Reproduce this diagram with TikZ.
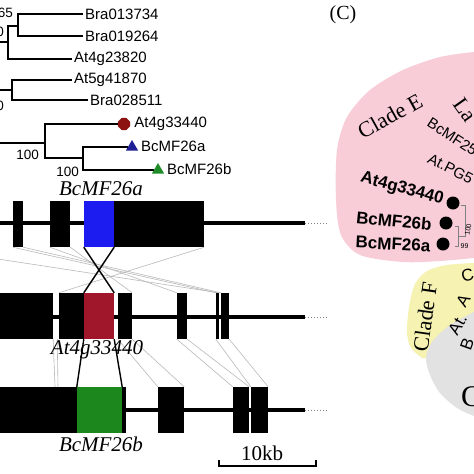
\documentclass[tikz,border=0pt]{standalone}
\usepackage{fontspec}
\setmainfont{Liberation Serif}
\newfontfamily\arial{Liberation Sans}
\usetikzlibrary{shapes.geometric,calc}
\definecolor{exonblue}{RGB}{28,28,240}
\definecolor{exonred}{RGB}{160,22,42}
\definecolor{exongreen}{RGB}{28,135,28}
\definecolor{octred}{RGB}{140,18,18}
\definecolor{triblue}{RGB}{30,30,150}
\definecolor{trigreen}{RGB}{30,140,40}
\definecolor{cladeE}{RGB}{248,205,215}
\definecolor{cladeF}{RGB}{245,242,178}
\definecolor{cladeG}{RGB}{226,226,226}
\tikzset{
    branch/.style={line width=1.6pt},
    leaf/.style={anchor=west, inner sep=2pt, font=\arial\fontsize{15}{17}\selectfont},
    boot/.style={anchor=east, inner sep=1pt, font=\arial\fontsize{13.5}{15}\selectfont},
    octo/.style={regular polygon, regular polygon sides=8, minimum size=13pt, inner sep=0pt, fill=octred},
    tri/.style={regular polygon, regular polygon sides=3, minimum size=14pt, inner sep=0pt},
    intron/.style={line width=3.5pt},
    tail/.style={gray, line width=1pt, dotted},
    exon/.style={rectangle, fill=black, inner sep=0pt, minimum height=46pt},
    homol/.style={gray!55, line width=0.6pt},
    match/.style={line width=1.4pt},
    gname/.style={font=\fontsize{21}{24}\selectfont\itshape, inner sep=1pt},
    scalebar/.style={line width=1.5pt},
    clade/.style={font=\fontsize{22}{24}\selectfont, inner sep=1pt},
    memb/.style={font=\arial\fontsize{15}{17}\selectfont, inner sep=1pt},
    fmemb/.style={font=\arial\fontsize{17}{19}\selectfont, inner sep=0.5pt, anchor=west},
    bmemb/.style={font=\arial\bfseries\fontsize{17}{19}\selectfont, inner sep=1pt},
    dot/.style={circle, fill=black, minimum size=13pt, inner sep=0pt},
    brk/.style={gray, line width=0.5pt},
    tiny/.style={font=\arial\fontsize{7}{8}\selectfont, inner sep=0.5pt}
}

\begin{document}
\begin{tikzpicture}[x=1pt,y=-1pt]
    \useasboundingbox (0,0) rectangle (474,474);
    \fill[white] (0,0) rectangle (474,474);
    \clip (0,0) rectangle (474,474);

    % tree
    \node[leaf] (bra1) at (83,14) {Bra013734};
    \node[leaf] (bra2) at (83,36) {Bra019264};
    \node[leaf] (at1) at (72,59) {At4g23820};
    \node[leaf] (at2) at (72,80) {At5g41870};
    \node[leaf] (bra3) at (88,100) {Bra028511};
    \node[octo] (mk1) at (124,124) {};
    \node[tri, fill=triblue] (mk2) at (132,147) {};
    \node[tri, fill=trigreen] (mk3) at (158,170) {};
    \node[leaf] (at3) at ($(mk1.east)+(2,0)$) {At4g33440};
    \node[leaf] (bc1) at (139,146) {BcMF26a};
    \node[leaf] (bc2) at (165,169) {BcMF26b};
    \coordinate (n1) at (18,26);
    \coordinate (n2) at (8,42);
    \coordinate (n3) at (12,90);
    \coordinate (n4) at (45,143);
    \coordinate (n5) at (83,158);
    \coordinate (s2) at (-5,42);
    \coordinate (s3) at (-5,90);
    \coordinate (s4) at (-5,143);

    \draw[branch] (bra1.west) -| (n1) |- (bra2.west);
    \draw[branch] (n1) -| (n2) |- (at1.west);
    \draw[branch] (s2) -- (n2);
    \draw[branch] (at2.west) -| (n3) |- (bra3.west);
    \draw[branch] (s3) -- (n3);
    \draw[branch] (mk1.west) -| (n4) |- (n5);
    \draw[branch] (s4) -- (n4);
    \draw[branch] (mk2.west) -| (n5) |- (mk3.west);

    \node[boot] (b1) at (14,13) {65};
    \node[boot] (b2) at (5,32) {100};
    \node[boot] (b3) at (5,106) {100};
    \node[boot] (b4) at (40,155) {100};
    \node[boot] (b5) at (80,172) {100};

    % gene models
    \coordinate (g1s) at (-5,223);
    \coordinate (g1e) at (305,223);
    \coordinate (g1d) at (327,223);
    \coordinate (g2s) at (-5,317);
    \coordinate (g2e) at (305,317);
    \coordinate (g2d) at (327,317);
    \coordinate (g3s) at (-5,410);
    \coordinate (g3e) at (305,410);
    \coordinate (g3d) at (327,410);
    \draw[intron] (g1s) -- (g1e);
    \draw[tail] (g1e) -- (g1d);
    \draw[intron] (g2s) -- (g2e);
    \draw[tail] (g2e) -- (g2d);
    \draw[intron] (g3s) -- (g3e);
    \draw[tail] (g3e) -- (g3d);

    \node[exon, minimum width=10pt] (a1) at (18,224) {};
    \node[exon, minimum width=20pt] (a2) at (60,224) {};
    \node[exon, minimum width=30pt, fill=exonblue] (aB) at (99,224) {};
    \node[exon, minimum width=90pt] (a4) at (159,224) {};

    \node[exon, minimum width=58pt] (b1) at (24,316) {};
    \node[exon, minimum width=25pt] (b2) at (71.5,316) {};
    \node[exon, minimum width=30pt, fill=exonred] (bR) at (99,316) {};
    \node[exon, minimum width=14pt] (b4) at (125,316) {};
    \node[exon, minimum width=10pt] (b5) at (182,316) {};
    \node[exon, minimum width=3pt] (b6) at (217.5,316) {};
    \node[exon, minimum width=8pt] (b7) at (225,316) {};

    \node[exon, minimum width=82pt] (c1) at (36,410) {};
    \node[exon, minimum width=45pt, fill=exongreen] (cG) at (99.5,410) {};
    \node[exon, minimum width=4pt] (c2) at (124,410) {};
    \node[exon, minimum width=26pt] (c3) at (171,410) {};
    \node[exon, minimum width=16pt] (c4) at (241,410) {};
    \node[exon, minimum width=17pt] (c5) at (259.5,410) {};

    \coordinate (lft) at (-2,259);
    \coordinate (c1a) at (55,387);
    \coordinate (c1b) at (58,387);
    \draw[homol] (a1.south west) -- (b6.north west);
    \draw[homol] (a1.south east) -- (b7.north west);
    \draw[homol] (lft) -- (b6.north east);
    \draw[homol] (a2.south west) -- (b5.north west);
    \draw[homol] (a2.south east) -- (b4.north east);
    \draw[homol] (a4.south east) -- (b2.north west);
    \draw[match] (aB.south west) -- (bR.north east);
    \draw[match] (aB.south east) -- (bR.north west);

    \draw[homol] (b1.south east) -- (c1a);
    \draw[homol] ($(b1.south east)+(4,0)$) -- (c1b);
    \draw[homol] (b4.south west) -- (c3.north west);
    \draw[homol] (b4.south east) -- (c3.north east);
    \draw[homol] (b5.south west) -- (c4.north west);
    \draw[homol] (b5.south east) -- (c4.north east);
    \draw[homol] (b6.south west) -- (c5.north west);
    \draw[homol] (b7.south east) -- (c5.north east);
    \draw[match] (bR.south west) -- (cG.north west);
    \draw[match] (bR.south east) -- (cG.north east);

    \node[gname] (la) at (101,189) {BcMF26a};
    \node[gname] (lb) at (97,350) {At4g33440};
    \node[gname] (lc) at (101,444) {BcMF26b};

    \node[font=\fontsize{21}{24}\selectfont, inner sep=1pt] (kb) at (262,453) {10kb};
    \coordinate (sl) at (219,460);
    \coordinate (sr) at (316,460);
    \draw[scalebar] (sl) -- ++(0,6) -| (sr);

    % panel C
    \node[font=\fontsize{20}{22}\selectfont] (pc) at (343,15) {(C)};
    \fill[cladeE] (480,48) -- plot[smooth] coordinates {(474,52) (440,57) (403,70) (370,90) (347,117) (337,150) (336,200) (341,235) (360,255) (403,262) (440,261) (474,258)} -- (480,258) -- cycle;
    \fill[cladeF] (480,262) -- plot[smooth] coordinates {(474,263) (447,265) (427,271) (415,284) (409,307) (407,333) (411,348) (422,358)} -- (480,358) -- cycle;
    \fill[cladeG] (480,312) -- plot[smooth] coordinates {(474,312) (450,325) (432,342) (426,358) (430,375) (440,393) (457,408) (474,416)} -- (480,416) -- cycle;

    \node[clade, rotate=29] (ce) at (390,116) {Clade E};
    \node[clade, rotate=-55, anchor=west] (cl) at (458,99) {La};
    \node[memb, rotate=-33, anchor=west] (m1) at (428,121) {BcMF25};
    \node[memb, rotate=-27, anchor=west] (m2) at (428,157) {At.PG5};
    \node[bmemb, rotate=-15] (e1) at (402,189) {At4g33440};
    \node[dot] (d1) at (453,203) {};
    \node[bmemb, rotate=-6] (e2) at (394,221) {BcMF26b};
    \node[dot] (d2) at (446,223) {};
    \node[bmemb, rotate=-3] (e3) at (393,244) {BcMF26a};
    \node[dot] (d3) at (443,244) {};

    \coordinate (q1) at (461,205);
    \coordinate (q2) at (455,226);
    \coordinate (q3) at (455,246);
    \coordinate (qm) at (458,236);
    \draw[brk] (q2) -- ++(3,0) |- (q3);
    \draw[brk] (q1) -- ++(4,0) |- (qm);
    \node[tiny, anchor=west] (t99) at (460,246) {99};
    \node[tiny, anchor=west, rotate=80] (t100) at (467,236) {100};

    \node[clade, rotate=82] (cf) at (425,317) {Clade F};
    \node[fmemb, rotate=15] (f1) at (461,277) {C};
    \node[fmemb, rotate=60] (f2) at (460,306) {A};
    \node[fmemb, rotate=60] (f3) at (452,334) {At.};
    \node[fmemb, rotate=70] (f4) at (465,350) {B};
    \node[font=\fontsize{30}{32}\selectfont, inner sep=0pt] (cg) at (471,397) {C};
\end{tikzpicture}
\end{document}
